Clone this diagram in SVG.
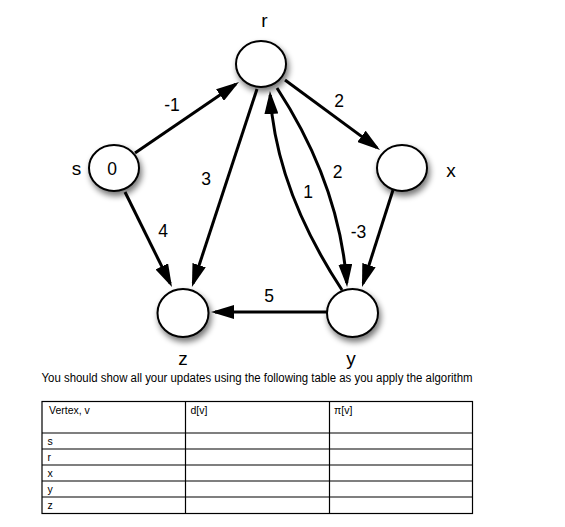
<svg xmlns="http://www.w3.org/2000/svg" width="565" height="527" viewBox="0 0 565 527">
<defs>
<marker id="ah" markerUnits="userSpaceOnUse" markerWidth="24" markerHeight="14" refX="19" refY="7" orient="auto" viewBox="0 0 24 14">
<path d="M0,0 L23,7 L0,14 z" fill="#000"/>
</marker>
<filter id="sh" x="-40%" y="-40%" width="190%" height="190%">
<feGaussianBlur in="SourceAlpha" stdDeviation="3"/>
<feOffset dx="2" dy="4" result="b"/>
<feComponentTransfer><feFuncA type="linear" slope="0.55"/></feComponentTransfer>
<feMerge><feMergeNode/><feMergeNode in="SourceGraphic"/></feMerge>
</filter>
<style>
.node ellipse{fill:#fff;stroke:#000;stroke-width:2;filter:url(#sh)}
.edge{fill:none;stroke:#000;stroke-width:3;marker-end:url(#ah)}
.lbl{font-family:"Liberation Sans",Arial,sans-serif;font-size:17.5px;fill:#000;text-anchor:middle}
.nl{font-family:"Liberation Sans",Arial,sans-serif;font-size:19px;fill:#000;text-anchor:middle}
.tt{font-family:"Liberation Sans",Arial,sans-serif;font-size:10.5px;fill:#000}
.grid{stroke:#000;stroke-width:1.2;fill:none}
</style>
</defs>
<rect width="565" height="527" fill="#fff"/>
<g id="connectors">
<path class="edge" d="M135,153 L235.7,84.3"/>
<path class="edge" d="M285,80 L376.8,147.6"/>
<path class="edge" d="M257,89 L193.2,283.2"/>
<path class="edge" d="M125,192 L170.2,283.4"/>
<path class="edge" d="M393,190 L363.2,283.2"/>
<path class="edge" d="M327,312 L215,312"/>
<path class="edge" d="M277,88 Q339,183 346.8,283"/>
<path class="edge" d="M342,290 Q276,189.5 270.2,95"/>
</g>
<g id="edge-labels">
<text class="lbl" x="172" y="111">-1</text>
<text class="lbl" x="339" y="107">2</text>
<text class="lbl" x="206" y="185">3</text>
<text class="lbl" x="337.5" y="178">2</text>
<text class="lbl" x="308" y="198">1</text>
<text class="lbl" x="163" y="236.5">4</text>
<text class="lbl" x="358.5" y="238">-3</text>
<text class="lbl" x="269" y="301.5">5</text>
</g>
<g id="node-r" class="node"><ellipse cx="261" cy="64" rx="25" ry="23"/><text class="nl" x="264.5" y="27">r</text></g>
<g id="node-s" class="node"><ellipse cx="114" cy="168" rx="25" ry="23"/><text class="lbl" x="112" y="175">0</text><text class="nl" x="76.5" y="175">s</text></g>
<g id="node-x" class="node"><ellipse cx="402" cy="168" rx="25" ry="23"/><text class="nl" x="451" y="177">x</text></g>
<g id="node-z" class="node"><ellipse cx="183" cy="313" rx="25.5" ry="24"/><text class="nl" x="183" y="365">z</text></g>
<g id="node-y" class="node"><ellipse cx="352.5" cy="313" rx="25.5" ry="24"/><text class="nl" x="351" y="365">y</text></g>
<text x="41.5" y="382" font-family="'Liberation Sans',Arial,sans-serif" font-size="12" fill="#000" textLength="431" lengthAdjust="spacingAndGlyphs">You should show all your updates using the following table as you apply the algorithm</text>
<g id="table">
<rect class="grid" x="42" y="401.5" width="430.5" height="112"/>
<path class="grid" d="M42,433 H472.5 M42,449 H472.5 M42,465 H472.5 M42,481 H472.5 M42,497 H472.5 M185.5,401.5 V513.5 M329.5,401.5 V513.5"/>
<text class="tt" x="49" y="414">Vertex, v</text>
<text class="tt" x="190.5" y="414">d[v]</text>
<text class="tt" x="334" y="414">π[v]</text>
<text class="tt" x="47.5" y="444.5">s</text>
<text class="tt" x="47.5" y="460.5">r</text>
<text class="tt" x="47.5" y="476.5">x</text>
<text class="tt" x="47.5" y="492.5">y</text>
<text class="tt" x="47.5" y="508.5">z</text>
</g>
</svg>
